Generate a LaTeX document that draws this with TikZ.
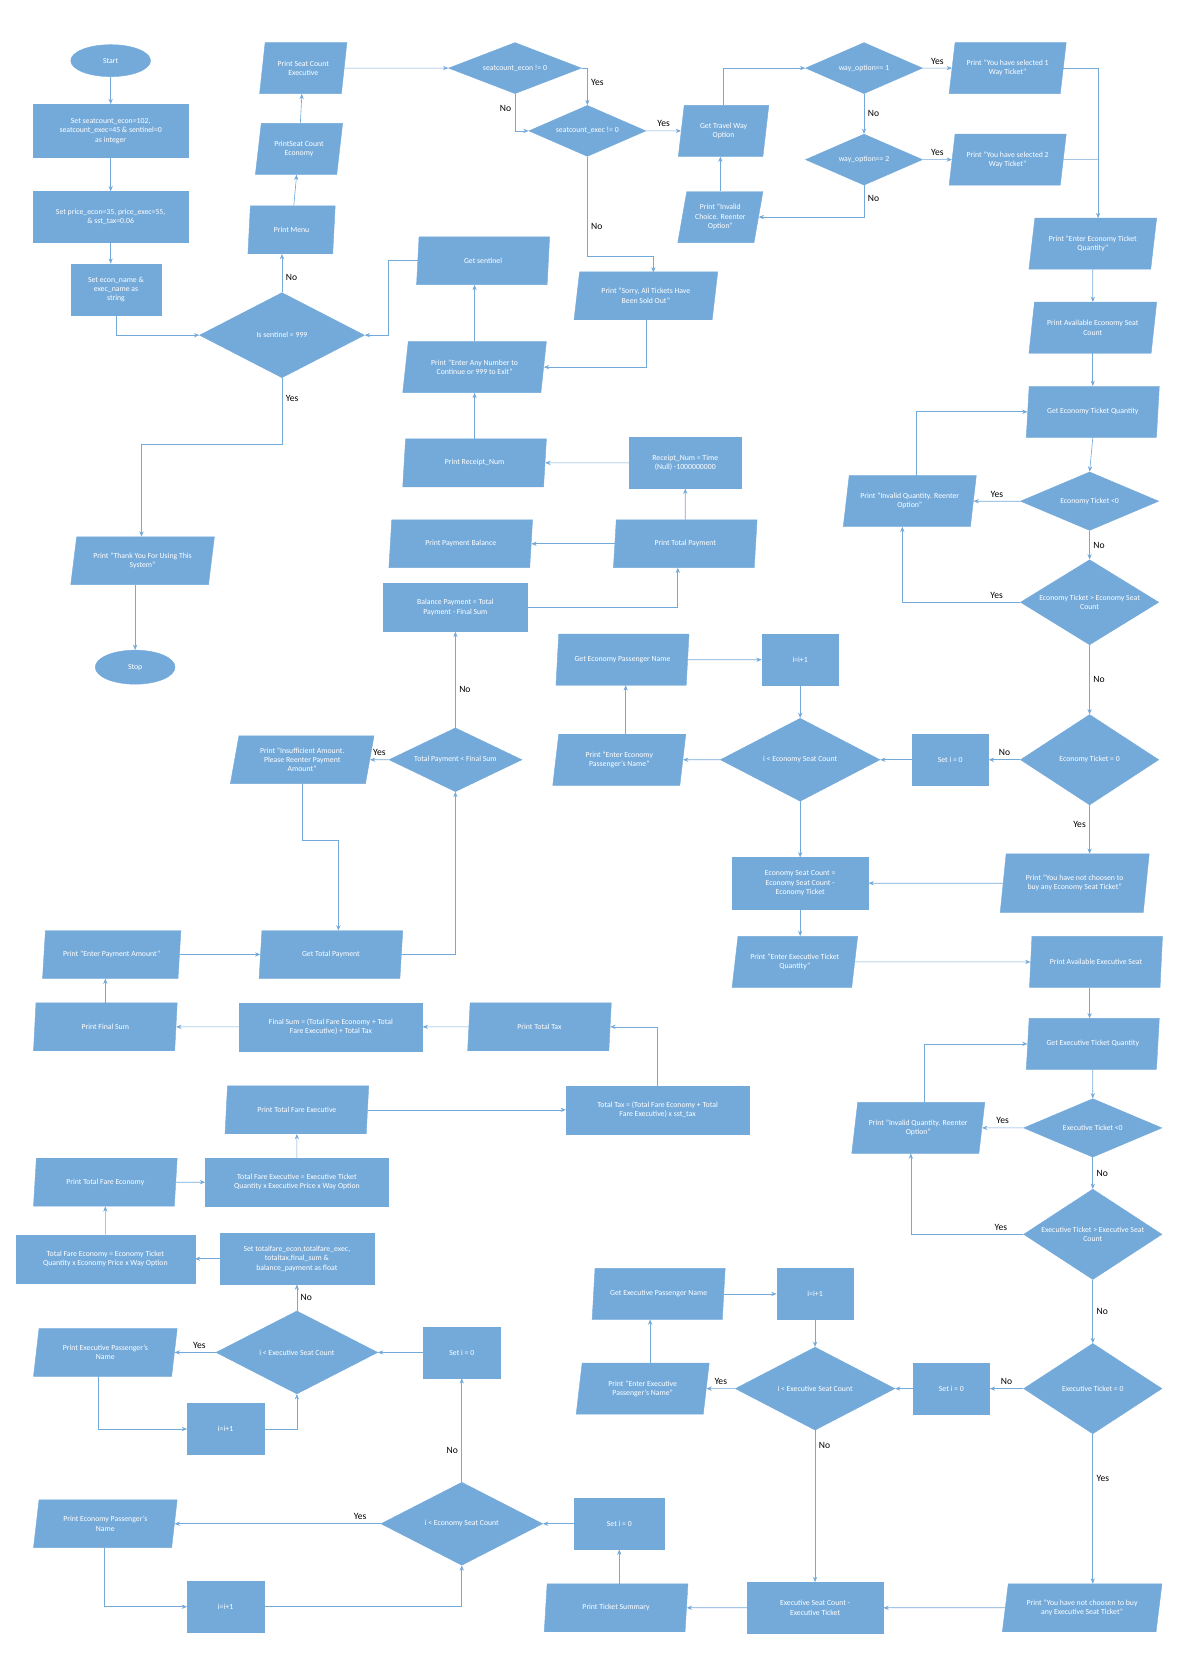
\documentclass[tikz,border=0pt]{standalone}
\usepackage{fontspec}
\setmainfont{Carlito}
\usetikzlibrary{shapes.geometric,arrows.meta}
\definecolor{fc}{RGB}{116,170,218}
\tikzset{
 base/.style={fill=fc,draw=fc,text=white,font=\fontsize{7.3}{8.8}\selectfont,align=center,inner sep=1pt},
 bx/.style={base,rectangle},
 pa/.style={base,trapezium,trapezium left angle=72,trapezium right angle=108,trapezium stretches body},
 dm/.style={base,diamond,inner sep=0pt,aspect=1.6},
 el/.style={base,ellipse},
 ar/.style={draw=fc,-{Stealth[length=5pt,width=4pt]},line width=0.6pt},
 ln/.style={draw=fc,line width=0.6pt},
 lb/.style={font=\fontsize{9}{10}\selectfont,text=black}
}
\begin{document}
\begin{tikzpicture}[x=1pt,y=-1pt]
\useasboundingbox (0,0) rectangle (1128,1561);
% left column
\node[el,minimum width=75,minimum height=30] (start) at (104,57) {Start};
\node[bx,minimum width=145,minimum height=50] (s1) at (104,123) {Set seatcount\_econ=102,\\seatcount\_exec=45 \& sentinel=0\\as integer};
\node[bx,minimum width=145,minimum height=48] (s2) at (104,204) {Set price\_econ=35, price\_exec=55,\\\& sst\_tax=0.06};
\node[bx,minimum width=85,minimum height=48] (s3) at (109,272) {Set econ\_name \&\\exec\_name as\\string};
\node[dm,minimum width=155,minimum height=80] (dsent) at (265,315) {Is sentinel = 999};
\node[pa,minimum width=82,minimum height=45] (menu) at (274,216) {Print Menu};
\node[pa,minimum width=82,minimum height=48] (pecon) at (281,140) {PrintSeat Count\\Economy};
\node[pa,minimum width=82,minimum height=48] (pexec) at (285,64) {Print Seat Count\\Executive};
\node[pa,minimum width=135,minimum height=45] (thank) at (134,527) {Print "Thank You For Using This\\System"};
\node[el,minimum width=75,minimum height=32] (stop) at (127,627) {Stop};
\node[pa,minimum width=125,minimum height=45] (getsent) at (454,245) {Get sentinel};
\node[pa,minimum width=135,minimum height=48] (penter) at (446,345) {Print "Enter Any Number to\\Continue or 999 to Exit"};
\node[pa,minimum width=135,minimum height=45] (prnum) at (446,435) {Print Receipt\_Num};
\node[bx,minimum width=105,minimum height=48] (rnum) at (644,435) {Receipt\_Num = Time\\(Null) -1000000000};
\node[pa,minimum width=135,minimum height=45] (ptotpay) at (644,511) {Print Total Payment};
\node[pa,minimum width=135,minimum height=45] (ppaybal) at (433,511) {Print Payment Balance};
\node[bx,minimum width=135,minimum height=45] (balpay) at (428,571) {Balance Payment = Total\\Payment - Final Sum};
\node[dm,minimum width=125,minimum height=60] (dtp) at (428,714) {Total Payment < Final Sum};
\node[pa,minimum width=135,minimum height=45] (pinsuf) at (284,714) {Print "Insufficient Amount.\\Please Reenter Payment\\Amount"};
\node[pa,minimum width=135,minimum height=45] (gettp) at (311,897) {Get Total Payment};
\node[pa,minimum width=130,minimum height=45] (pentpay) at (105,897) {Print "Enter Payment Amount"};
\node[pa,minimum width=135,minimum height=45] (pfs) at (99,965) {Print Final Sum};
\node[bx,minimum width=172,minimum height=45] (fs) at (311,965) {Final Sum  = (Total Fare Economy + Total\\Fare Executive) + Total Tax};
\node[pa,minimum width=135,minimum height=45] (ptt) at (507,965) {Print Total Tax};
\node[bx,minimum width=172,minimum height=45] (tt) at (618,1043) {Total Tax  = (Total Fare Economy + Total\\Fare Executive) x sst\_tax};
\node[pa,minimum width=135,minimum height=45] (ptfe) at (279,1043) {Print Total Fare Executive};
\node[bx,minimum width=172,minimum height=45] (tfex) at (279,1111) {Total Fare Executive = Executive Ticket\\Quantity x Executive Price x Way Option};
\node[pa,minimum width=135,minimum height=45] (ptfeco) at (99,1111) {Print Total Fare Economy};
\node[bx,minimum width=168,minimum height=45] (tfeco) at (99,1183) {Total Fare Economy = Economy Ticket\\Quantity x Economy Price x Way Option};
\node[bx,minimum width=145,minimum height=48] (setfloat) at (279,1183) {Set totalfare\_econ,totalfare\_exec,\\totaltax,final\_sum \&\\balance\_payment as float};
\node[dm,minimum width=152,minimum height=78] (dexl) at (279,1271) {i < Executive Seat Count};
\node[pa,minimum width=135,minimum height=45] (pexn) at (99,1271) {Print Executive Passenger's\\Name};
\node[bx,minimum width=72,minimum height=48] (inc1) at (212,1343) {i=i+1};
\node[bx,minimum width=72,minimum height=48] (set0a) at (434,1271) {Set i = 0};
\node[dm,minimum width=152,minimum height=78] (decl) at (434,1432) {i < Economy Seat Count};
\node[pa,minimum width=135,minimum height=45] (pecn) at (99,1432) {Print Economy Passenger's\\Name};
\node[bx,minimum width=72,minimum height=48] (inc2) at (212,1510) {i=i+1};
\node[bx,minimum width=85,minimum height=48] (set0b) at (582,1432) {Set i = 0};
\node[pa,minimum width=135,minimum height=45] (pts) at (579,1511) {Print Ticket Summary};
\node[bx,minimum width=128,minimum height=48] (esc2) at (766,1511) {Executive Seat Count -\\Executive Ticket};
\node[pa,minimum width=150,minimum height=45] (pnoexec) at (1017,1511) {Print "You have not choosen to buy\\any Executive Seat Ticket"};
% middle / right
\node[dm,minimum width=125,minimum height=48] (dse) at (484,64) {seatcount\_econ != 0};
\node[dm,minimum width=110,minimum height=48] (dsx) at (552,123) {seatcount\_exec != 0};
\node[pa,minimum width=135,minimum height=45] (sold) at (607,278) {Print "Sorry, All Tickets Have\\Been Sold Out"};
\node[pa,minimum width=85,minimum height=48] (gtw) at (680,123) {Get Travel Way\\Option};
\node[pa,minimum width=80,minimum height=48] (pinv) at (677,204) {Print "Invalid\\Choice. Reenter\\Option"};
\node[dm,minimum width=110,minimum height=48] (dw1) at (812,64) {way\_option== 1};
\node[dm,minimum width=110,minimum height=48] (dw2) at (812,150) {way\_option== 2};
\node[pa,minimum width=110,minimum height=48] (p1w) at (947,64) {Print "You have selected 1\\Way Ticket"};
\node[pa,minimum width=110,minimum height=48] (p2w) at (947,150) {Print "You have selected 2\\Way Ticket"};
\node[pa,minimum width=120,minimum height=48] (peqt) at (1027,229) {Print "Enter Economy Ticket\\Quantity"};
\node[pa,minimum width=120,minimum height=48] (paes) at (1027,308) {Print Available Economy Seat\\Count};
\node[pa,minimum width=125,minimum height=48] (geqt) at (1027,387) {Get Economy Ticket Quantity};
\node[dm,minimum width=130,minimum height=55] (de0) at (1024,471) {Economy Ticket  <0};
\node[pa,minimum width=125,minimum height=48] (pinvq) at (855,471) {Print "Invalid Quantity. Reenter\\Option"};
\node[dm,minimum width=130,minimum height=80] (dec) at (1024,566) {Economy Ticket > Economy Seat\\Count};
\node[dm,minimum width=130,minimum height=85] (de00) at (1024,714) {Economy Ticket = 0};
\node[bx,minimum width=72,minimum height=48] (setie) at (893,714) {Set i = 0};
\node[dm,minimum width=150,minimum height=78] (dieco) at (752,714) {i < Economy Seat Count};
\node[pa,minimum width=125,minimum height=48] (pepn) at (582,714) {Print "Enter Economy\\Passenger's Name"};
\node[pa,minimum width=125,minimum height=48] (gepn) at (585,620) {Get Economy Passenger Name};
\node[bx,minimum width=72,minimum height=48] (inc3) at (752,620) {i=i+1};
\node[pa,minimum width=140,minimum height=55] (pnoeco) at (1010,830) {Print "You have not choosen to\\buy any Economy Seat Ticket"};
\node[bx,minimum width=128,minimum height=48] (esc) at (752,830) {Economy Seat Count =\\Economy Seat Count -\\Economy Ticket};
\node[pa,minimum width=118,minimum height=48] (pext) at (747,904) {Print "Enter Executive Ticket\\Quantity"};
\node[pa,minimum width=125,minimum height=48] (paxs) at (1030,904) {Print Available Executive Seat};
\node[pa,minimum width=125,minimum height=48] (gxq) at (1027,981) {Get Executive Ticket Quantity};
\node[dm,minimum width=130,minimum height=55] (dx0) at (1027,1060) {Executive Ticket <0};
\node[pa,minimum width=125,minimum height=48] (pinvq2) at (863,1060) {Print "Invalid Quantity. Reenter\\Option"};
\node[dm,minimum width=130,minimum height=85] (dxc) at (1027,1160) {Executive Ticket > Executive Seat\\Count};
\node[dm,minimum width=130,minimum height=85] (dx00) at (1027,1305) {Executive Ticket = 0};
\node[bx,minimum width=72,minimum height=48] (setix) at (894,1305) {Set i = 0};
\node[dm,minimum width=150,minimum height=78] (dixl) at (766,1305) {i < Executive Seat Count};
\node[pa,minimum width=125,minimum height=48] (pexpn) at (604,1305) {Print "Enter Executive\\Passenger's Name"};
\node[pa,minimum width=125,minimum height=48] (gxpn) at (619,1216) {Get Executive Passenger Name};
\node[bx,minimum width=72,minimum height=48] (inc4) at (766,1216) {i=i+1};
% edges left
\draw[ar] (start) -- (s1);
\draw[ar] (s1) -- (s2);
\draw[ar] (s2) -- (s2|-s3.north);
\draw[ar] (s3.south) |- (dsent.west);
\draw[ar] (dsent.north) -- node[lb,right,pos=0.4]{No} (menu.south-|dsent.north);
\draw[ar] (menu) -- (pecon);
\draw[ar] (pecon) -- (pexec);
\draw[ar] (pexec.east) -- (dse.west);
\draw[ar] (dse.east) -| node[lb,pos=0.7,right]{Yes} (dsx.north);
\draw[ar] (dse.south) |- node[lb,pos=0.2,left]{No} (dsx.west);
\draw[ar] (dsx.east) -- node[lb,above]{Yes} (gtw.west);
\draw[ar] (dsx.south) |- node[lb,pos=0.35,right]{No} (614,241) -- (614,256);
\draw[ar] (sold.south) |- (penter.east);
\draw[ar] (penter.north) -- (penter.north|-getsent.south);
\draw[ar] (getsent.west) -| (365,315) -- (dsent.east);
\draw[ar] (prnum.north) -- (penter.south-|prnum.north);
\draw[ar] (rnum.west) -- (prnum.east);
\draw[ar] (ptotpay.north) -- (rnum.south);
\draw[ar] (ptotpay.west) -- (ppaybal.east);
\draw[ar] (balpay.east) -| (637,533.5);
\draw[ar] (dtp.north) -- node[lb,right,pos=0.4]{No} (balpay.south);
\draw[ar] (dtp.west) -- node[lb,above]{Yes} (pinsuf.east);
\draw[ar] (284,736.5) |- (318,790) -- (318,874.5);
\draw[ar] (gettp.east) -| (dtp.south);
\draw[ar] (pentpay.east) -- (gettp.west);
\draw[ar] (pfs.north) -- (pentpay.south-|pfs.north);
\draw[ar] (fs.west) -- (pfs.east);
\draw[ar] (ptt.west) -- (fs.east);
\draw[ar] (tt.north) |- (ptt.east);
\draw[ar] (ptfe.east) -- (tt.west|-ptfe.east);
\draw[ar] (tfex.north) -- (ptfe.south);
\draw[ar] (ptfeco.east) -- (tfex.west);
\draw[ar] (tfeco.north) -- (ptfeco.south);
\draw[ar] (setfloat.west) -- (tfeco.east|-setfloat.west);
\draw[ar] (dexl.north) -- node[lb,right]{No} (setfloat.south);
\draw[ar] (dexl.west) -- node[lb,above,pos=0.4]{Yes} (pexn.east);
\draw[ar] (92,1293.5) |- (inc1.west);
\draw[ar] (inc1.east) -| (dexl.south);
\draw[ar] (set0a.west) -- (dexl.east);
\draw[ar] (decl.north) -- node[lb,left,pos=0.3]{No} (set0a.south);
\draw[ar] (decl.west) -- node[lb,above,pos=0.1]{Yes} (pecn.east);
\draw[ar] (98,1454.5) |- (inc2.west);
\draw[ar] (inc2.east) -| (decl.south);
\draw[ar] (set0b.west) -- (decl.east);
\draw[ar] (pts.north-|set0b.south) -- (set0b.south);
\draw[ar] (esc2.west) -- (pts.east);
\draw[ar] (pnoexec.west) -- (esc2.east);
\draw[ar] (dixl.south) -- node[lb,right,pos=0.1]{No} (esc2.north);
\draw[ar] (dsent.south) |- node[lb,right,pos=0.15]{Yes} (133,418) -- (thank.north-|133,418);
\draw[ar] (thank.south-|127,0) -- (stop.north);
% edges right
\draw[ar] (gtw.north) |- (dw1.west);
\draw[ar] (dw1.east) -- node[lb,above]{Yes} (p1w.west);
\draw[ar] (dw1.south) -- node[lb,right]{No} (dw2.north);
\draw[ar] (dw2.east) -- node[lb,above]{Yes} (p2w.west);
\draw[ar] (dw2.south) |- node[lb,right,pos=0.2]{No} (pinv.east);
\draw[ar] (pinv.north) -- (pinv.north|-gtw.south);
\draw[ar] (p1w.east) -| (1032,205);
\draw[ln] (p2w.east) -- (1032,150);
\draw[ar] (peqt.south) -- (paes.north);
\draw[ar] (paes.south) -- (paes.south|-geqt.north);
\draw[ar] (geqt.south) -- (de0.north);
\draw[ar] (de0.west) -- node[lb,above]{Yes} (pinvq.east);
\draw[ar] (de0.south) -- node[lb,right]{No} (dec.north);
\draw[ar] (dec.west) -| node[lb,above,pos=0.1]{Yes} (848,495);
\draw[ar] (861,447) |- (geqt.west);
\draw[ar] (dec.south) -- node[lb,right]{No} (de00.north);
\draw[ar] (de00.west) -- node[lb,above]{No} (setie.east);
\draw[ar] (setie.west) -- (dieco.east);
\draw[ar] (dieco.west) -- (pepn.east);
\draw[ar] (588,690) -- (588,644);
\draw[ar] (gepn.east) -- (inc3.west);
\draw[ar] (inc3.south) -- (dieco.north);
\draw[ar] (de00.south) -- node[lb,left,pos=0.4]{Yes} (pnoeco.north-|de00.south);
\draw[ar] (pnoeco.west) -- (esc.east);
\draw[ar] (dieco.south) -- (esc.north);
\draw[ar] (esc.south) -- (esc.south|-pext.north);
\draw[ar] (pext.east) -- (paxs.west);
\draw[ar] (paxs.south-|1024,0) -- (1024,957);
\draw[ar] (gxq.south) -- (dx0.north);
\draw[ar] (dx0.west) -- node[lb,above]{Yes} (pinvq2.east);
\draw[ar] (dx0.south) -- node[lb,right]{No} (dxc.north);
\draw[ar] (dxc.west) -| node[lb,above,pos=0.1]{Yes} (856,1084);
\draw[ar] (869,1036) |- (gxq.west);
\draw[ar] (dxc.south) -- node[lb,right]{No} (dx00.north);
\draw[ar] (dx00.west) -- node[lb,above]{No} (setix.east);
\draw[ar] (setix.west) -- (dixl.east);
\draw[ar] (dixl.west) -- node[lb,above]{Yes} (pexpn.east);
\draw[ar] (611,1281) -- (611,1240);
\draw[ar] (gxpn.east) -- (inc4.west);
\draw[ar] (inc4.south) -- (dixl.north);
\draw[ar] (dx00.south) -- node[lb,right,pos=0.3]{Yes} (pnoexec.north-|dx00.south);
\end{tikzpicture}
\end{document}
